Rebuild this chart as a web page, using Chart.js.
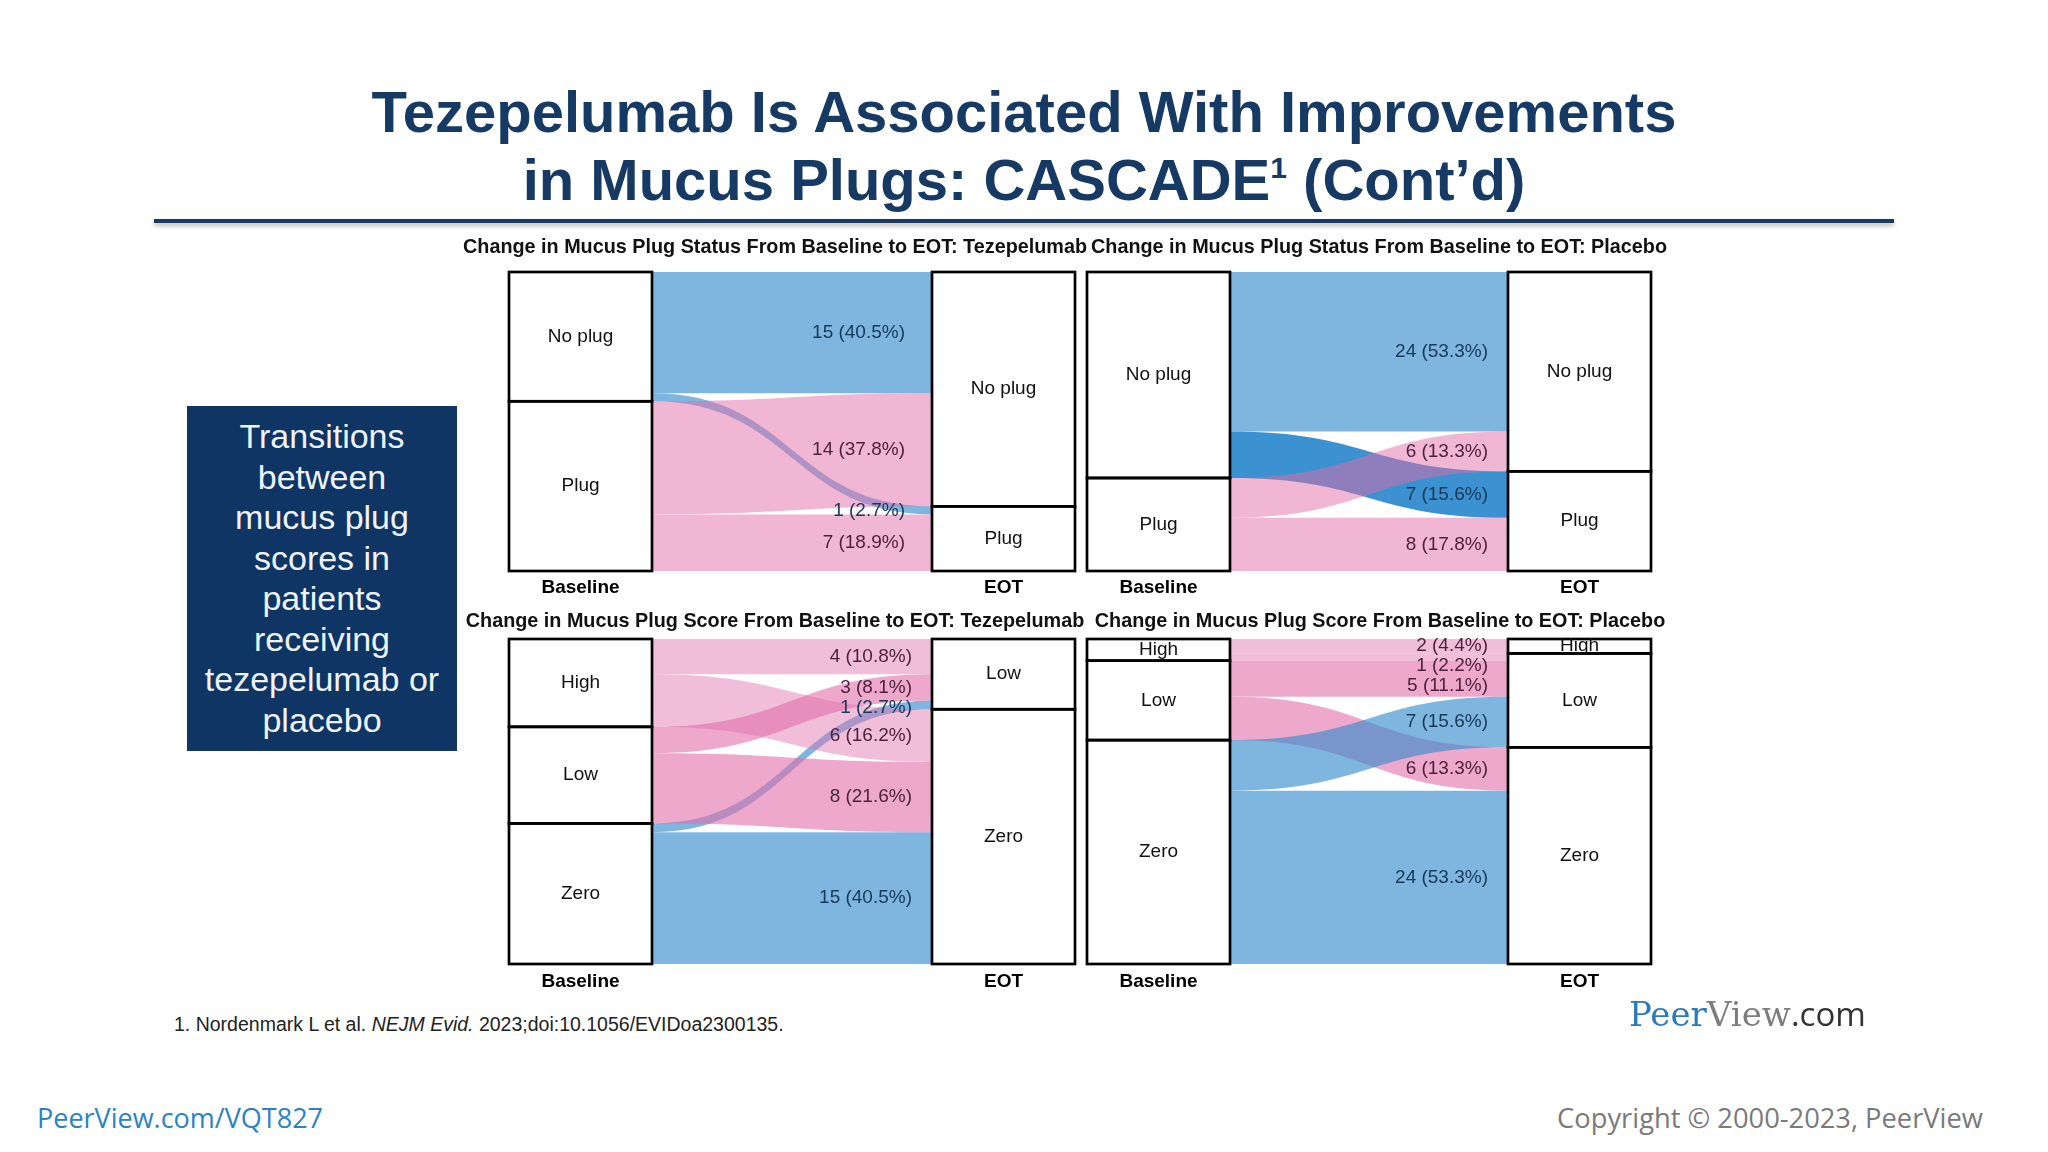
<!DOCTYPE html>
<html>
<head>
<meta charset="utf-8">
<script src="https://cdn.jsdelivr.net/npm/chart.js@4.4.1/dist/chart.umd.min.js"></script>
<style>
html, body { margin: 0; padding: 0; background: #fff; }
body { width: 2048px; height: 1152px; position: relative; overflow: hidden; font-family: "Liberation Sans", Arial, sans-serif; }
.abs { position: absolute; }
canvas { position: absolute; }
.title { left: 0; width: 2048px; text-align: center; font-size: 58px; line-height: 58px; font-weight: bold; color: #163a63; white-space: nowrap; }
.title sup { font-size: 30px; vertical-align: baseline; position: relative; top: -22px; line-height: 0; }
.rule { left: 154px; top: 219px; width: 1740px; height: 4px; background: #163a63; box-shadow: 0 3px 4px rgba(0,0,0,0.28); }
.side { left: 187px; top: 406px; width: 270px; height: 345px; box-sizing: border-box; padding-top: 10px; background: #0e3563; color: #eef3f9; font-size: 34px; line-height: 40.5px; text-align: center; }
.foot { left: 174px; top: 1012px; font-size: 19.5px; line-height: 24px; color: #222; white-space: nowrap; }
.logo { left: 1629px; top: 994px; font-size: 34px; line-height: 40px; white-space: nowrap; }
.logo .peer { font-family: "DejaVu Serif", "Liberation Serif", serif; color: #2b7bb9; }
.logo .view { font-family: "DejaVu Serif", "Liberation Serif", serif; color: #7d7d7d; }
.logo .com { font-family: "Open Sans", "Liberation Sans", sans-serif; color: #333; font-size: 33px; }
.url { left: 37px; top: 1100px; font-family: "Open Sans", sans-serif; font-size: 27px; line-height: 36px; color: #2b83c3; }
.copy { right: 65px; top: 1100px; font-family: "Open Sans", sans-serif; font-size: 27.3px; line-height: 36px; color: #7a7a7a; }
</style>
</head>
<body>
<div class="abs title" style="top:83px">Tezepelumab Is Associated With Improvements</div>
<div class="abs title" style="top:151px">in Mucus Plugs: CASCADE<sup>1</sup> (Cont’d)</div>
<div class="abs rule"></div>
<div class="abs side">Transitions<br>between<br>mucus plug<br>scores in<br>patients<br>receiving<br>tezepelumab or<br>placebo</div>

<canvas id="chart-status-teze"></canvas>
<canvas id="chart-status-pbo"></canvas>
<canvas id="chart-score-teze"></canvas>
<canvas id="chart-score-pbo"></canvas>

<div class="abs foot">1. Nordenmark L et al. <i>NEJM Evid.</i> 2023;doi:10.1056/EVIDoa2300135.</div>
<div class="abs logo"><span class="peer">Peer</span><span class="view">View</span><span class="com">.com</span></div>
<div class="abs url">PeerView.com/VQT827</div>
<div class="abs copy">Copyright © 2000-2023, PeerView</div>

<script>
// alluvial panels — baseline vs end of treatment
// flows are listed in drawing order (later ones are painted on top)
const timepoints = ['Baseline', 'EOT'];
const statusStrata = ['No plug', 'Plug'];
const scoreStrata = ['High', 'Low', 'Zero'];

// mucus plug status, tezepelumab (n = 37)
const tezeStatusFrom = ['No plug', 'No plug', 'Plug', 'Plug'];
const tezeStatusTo = ['No plug', 'Plug', 'No plug', 'Plug'];
const tezeStatusN = [15, 1, 14, 7];

// mucus plug status, placebo (n = 45)
const pboStatusFrom = ['No plug', 'No plug', 'Plug', 'Plug'];
const pboStatusTo = ['No plug', 'Plug', 'No plug', 'Plug'];
const pboStatusN = [24, 7, 6, 8];

// mucus plug score, tezepelumab (n = 37)
const tezeScoreFrom = ['Zero', 'Zero', 'High', 'High', 'Low', 'Low'];
const tezeScoreTo = ['Low', 'Zero', 'Low', 'Zero', 'Low', 'Zero'];
const tezeScoreN = [1, 15, 4, 6, 3, 8];

// mucus plug score, placebo (n = 45)
const pboScoreFrom = ['High', 'High', 'Low', 'Low', 'Zero', 'Zero'];
const pboScoreTo = ['High', 'Low', 'Low', 'Zero', 'Low', 'Zero'];
const pboScoreN = [2, 1, 5, 6, 7, 24];

Chart.defaults.font.family = '"Liberation Sans", Arial, Helvetica, sans-serif';
Chart.defaults.color = '#000';

const BOX_W = 143;
const TITLE_SIZE = 19.8;
const TICK_SIZE = 19;
const LABEL_SIZE = 19;

const BLUE = 'rgba(50,140,205,0.63)';
const BLUE_DEEP = 'rgba(50,140,205,0.95)';
const stratumColors = {
    'No plug': BLUE,
    'Zero': BLUE,
    'Plug': 'rgba(225,110,170,0.5)',
    'High': 'rgba(225,110,170,0.45)',
    'Low': 'rgba(225,110,170,0.6)',
};
const blueStrata = ['No plug', 'Zero'];

function sumWhere(keys, vals, key) {
    let s = 0;
    keys.forEach((k, i) => { if (k === key) s += vals[i]; });
    return s;
}

function alluvialPlugin(cfg) {
    const rank = (s) => cfg.strata.indexOf(s);
    const idx = cfg.n.map((_, i) => i);
    const y0 = [], y1 = [];
    let acc = 0;
    [...idx].sort((a, b) => rank(cfg.from[a]) - rank(cfg.from[b]) || rank(cfg.to[a]) - rank(cfg.to[b]))
        .forEach((i) => { y0[i] = acc; acc += cfg.n[i]; });
    acc = 0;
    [...idx].sort((a, b) => rank(cfg.to[a]) - rank(cfg.to[b]) || rank(cfg.from[a]) - rank(cfg.from[b]))
        .forEach((i) => { y1[i] = acc; acc += cfg.n[i]; });
    const total = cfg.n.reduce((s, v) => s + v, 0);
    const gap = cfg.labelGap || 20;

    return {
        id: 'alluvial',
        beforeDatasetsDraw(chart) {
            const { ctx, scales: { x, y } } = chart;
            const xl = x.getPixelForValue(0) + BOX_W / 2;
            const xr = x.getPixelForValue(1) - BOX_W / 2;
            const xm = (xl + xr) / 2;
            ctx.save();
            idx.forEach((i) => {
                const v = cfg.n[i];
                const a0 = y.getPixelForValue(y0[i]), b0 = y.getPixelForValue(y0[i] + v);
                const a1 = y.getPixelForValue(y1[i]), b1 = y.getPixelForValue(y1[i] + v);
                let color = stratumColors[cfg.from[i]];
                if (cfg.deepChange && blueStrata.includes(cfg.from[i]) && cfg.to[i] !== cfg.from[i]) color = BLUE_DEEP;
                ctx.beginPath();
                ctx.moveTo(xl, a0);
                ctx.bezierCurveTo(xm, a0, xm, a1, xr, a1);
                ctx.lineTo(xr, b1);
                ctx.bezierCurveTo(xm, b1, xm, b0, xl, b0);
                ctx.closePath();
                ctx.fillStyle = color;
                ctx.fill();
            });
            ctx.restore();
        },
        afterDatasetsDraw(chart) {
            const { ctx, scales: { x, y } } = chart;
            ctx.save();
            // box outlines + stratum names
            chart.data.datasets.forEach((ds, di) => {
                chart.getDatasetMeta(di).data.forEach((bar) => {
                    const top = Math.min(bar.y, bar.base), h = Math.abs(bar.base - bar.y);
                    ctx.lineWidth = 2.7;
                    ctx.strokeStyle = '#000';
                    ctx.strokeRect(bar.x - bar.width / 2, top, bar.width, h);
                    ctx.fillStyle = '#111';
                    ctx.font = LABEL_SIZE + 'px "Liberation Sans", Arial, sans-serif';
                    ctx.textAlign = 'center';
                    ctx.textBaseline = 'middle';
                    ctx.fillText(ds.label, bar.x, top + h / 2);
                });
            });
            // flow labels next to EOT column
            const xr = x.getPixelForValue(1) - BOX_W / 2;
            const labels = idx.map((i) => ({
                i,
                y: y.getPixelForValue(y1[i] + cfg.n[i] / 2),
                text: cfg.n[i] + ' (' + (cfg.n[i] / total * 100).toFixed(1) + '%)',
            })).sort((a, b) => a.y - b.y);
            for (let k = 1; k < labels.length; k++) {
                if (labels[k].y - labels[k - 1].y < 20) labels[k].y = labels[k - 1].y + 20;
            }
            ctx.font = LABEL_SIZE + 'px "Liberation Sans", Arial, sans-serif';
            ctx.textAlign = 'right';
            ctx.textBaseline = 'middle';
            labels.forEach((l) => {
                ctx.fillStyle = blueStrata.includes(cfg.from[l.i]) ? '#16395a' : '#4c1f3c';
                ctx.fillText(l.text, xr - gap, l.y);
            });
            ctx.restore();
        },
    };
}

function makePanel(id, cfg) {
    const el = document.getElementById(id);
    const c = cfg.canvas, a = cfg.area;
    el.width = c.width;
    el.height = c.height;
    el.style.left = c.left + 'px';
    el.style.top = c.top + 'px';
    el.style.width = c.width + 'px';
    el.style.height = c.height + 'px';

    const titleLH = TITLE_SIZE * 1.2, tickLH = TICK_SIZE * 1.2;
    const tickPad = cfg.tickY - a.bottom - tickLH / 2;
    // one x unit = distance between the two column centres
    const unit = a.right - a.left - BOX_W;
    const xMin = -(a.left + BOX_W / 2 - c.left) / unit;
    const xMax = xMin + c.width / unit;
    const total = cfg.n.reduce((s, v) => s + v, 0);

    const startTot = cfg.strata.map((s) => sumWhere(cfg.from, cfg.n, s));
    const endTot = cfg.strata.map((s) => sumWhere(cfg.to, cfg.n, s));
    let accS = 0, accE = 0;
    const datasets = cfg.strata.map((s, si) => {
        const d = [];
        if (startTot[si] > 0) d.push({ x: 0, y: [accS, accS + startTot[si]] });
        if (endTot[si] > 0) d.push({ x: 1, y: [accE, accE + endTot[si]] });
        accS += startTot[si];
        accE += endTot[si];
        return {
            label: s,
            data: d,
            backgroundColor: '#fff',
            borderWidth: 0,
            barThickness: BOX_W,
            grouped: false,
        };
    });

    return new Chart(el, {
        type: 'bar',
        data: { datasets },
        options: {
            responsive: false,
            animation: false,
            devicePixelRatio: 1,
            layout: {
                padding: {
                    left: 0,
                    right: 0,
                    top: 0,
                    bottom: c.top + c.height - a.bottom - (2 * tickPad + tickLH),
                },
            },
            scales: {
                x: {
                    type: 'linear',
                    offset: false,
                    min: xMin,
                    max: xMax,
                    grid: { display: false, drawTicks: false },
                    border: { display: false },
                    afterBuildTicks: (axis) => { axis.ticks = timepoints.map((_, i) => ({ value: i })); },
                    ticks: {
                        padding: tickPad,
                        color: '#000',
                        font: { size: TICK_SIZE, weight: 'bold' },
                        callback: (v) => timepoints[v] ?? '',
                    },
                },
                y: {
                    display: false,
                    reverse: true,
                    min: 0,
                    max: total,
                },
            },
            plugins: {
                legend: { display: false },
                tooltip: { enabled: false },
                title: {
                    display: true,
                    text: cfg.title,
                    color: '#111',
                    font: { size: TITLE_SIZE, weight: 'bold' },
                    padding: {
                        top: cfg.titleY - c.top - titleLH / 2,
                        bottom: a.top - cfg.titleY - titleLH / 2,
                    },
                },
            },
        },
        plugins: [alluvialPlugin(cfg)],
    });
}

makePanel('chart-status-teze', {
    title: 'Change in Mucus Plug Status From Baseline to EOT: Tezepelumab',
    strata: statusStrata, from: tezeStatusFrom, to: tezeStatusTo, n: tezeStatusN,
    canvas: { left: 455, top: 226, width: 640, height: 386 },
    area: { left: 509, right: 1075, top: 272, bottom: 571 },
    titleY: 248, tickY: 588, labelGap: 27,
});
makePanel('chart-status-pbo', {
    title: 'Change in Mucus Plug Status From Baseline to EOT: Placebo',
    strata: statusStrata, from: pboStatusFrom, to: pboStatusTo, n: pboStatusN,
    canvas: { left: 1059, top: 226, width: 640, height: 386 },
    area: { left: 1087, right: 1651, top: 272, bottom: 571 },
    titleY: 248, tickY: 588, deepChange: true,
});
makePanel('chart-score-teze', {
    title: 'Change in Mucus Plug Score From Baseline to EOT: Tezepelumab',
    strata: scoreStrata, from: tezeScoreFrom, to: tezeScoreTo, n: tezeScoreN,
    canvas: { left: 455, top: 598, width: 640, height: 412 },
    area: { left: 509, right: 1075, top: 639, bottom: 964 },
    titleY: 622, tickY: 982,
});
makePanel('chart-score-pbo', {
    title: 'Change in Mucus Plug Score From Baseline to EOT: Placebo',
    strata: scoreStrata, from: pboScoreFrom, to: pboScoreTo, n: pboScoreN,
    canvas: { left: 1060, top: 598, width: 640, height: 412 },
    area: { left: 1087, right: 1651, top: 639, bottom: 964 },
    titleY: 622, tickY: 982,
});
</script>
</body>
</html>
